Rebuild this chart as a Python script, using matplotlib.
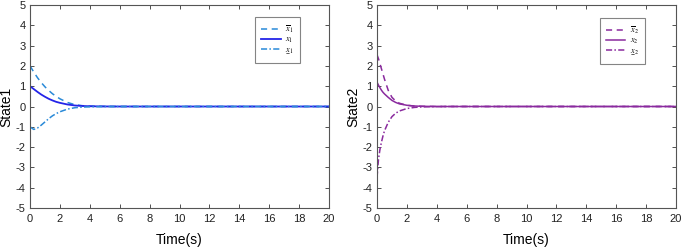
import matplotlib
matplotlib.use("Agg")
import matplotlib.pyplot as plt

plt.rcParams['font.family'] = ['Liberation Sans', 'DejaVu Sans']
plt.rcParams['mathtext.fontset'] = 'stix'
plt.rcParams['axes.unicode_minus'] = False

# Left panel data
t1 = [0, 0.25, 0.5, 0.75, 1, 1.25, 1.5, 1.75, 2, 2.5, 3, 3.5, 4, 5, 6, 8, 10, 15, 20]
xbar1 = [2.0, 1.7, 1.42, 1.18, 0.97, 0.79, 0.63, 0.5, 0.38, 0.2, 0.09, 0.04, 0.02, 0.005, 0, 0, 0, 0, 0]
x1 = [1.0, 0.86, 0.72, 0.59, 0.48, 0.38, 0.3, 0.23, 0.18, 0.1, 0.05, 0.025, 0.012, 0.003, 0, 0, 0, 0, 0]
xi1 = [-1.0, -1.13, -1.06, -0.92, -0.76, -0.6, -0.46, -0.35, -0.26, -0.13, -0.06, -0.03, -0.015, -0.004, 0, 0, 0, 0, 0]

# Right panel data
t2 = [0, 0.1, 0.2, 0.3, 0.4, 0.5, 0.75, 1, 1.25, 1.5, 2, 2.5, 3, 4, 5, 6, 8, 10, 15, 20]
xbar2 = [2.55, 2.35, 2.1, 1.85, 1.6, 1.35, 0.8, 0.45, 0.27, 0.16, 0.06, 0.02, 0.01, 0, 0, 0, 0, 0, 0, 0]
x2 = [1.2, 1.05, 0.92, 0.8, 0.7, 0.62, 0.45, 0.3, 0.2, 0.13, 0.06, 0.025, 0.01, 0, 0, 0, 0, 0, 0, 0]
xi2 = [-3.5, -2.6, -2.1, -1.75, -1.45, -1.2, -0.78, -0.5, -0.33, -0.22, -0.1, -0.045, -0.02, -0.005, 0, 0, 0, 0, 0, 0]

xticks = list(range(0, 21, 2))
yticks = list(range(-5, 6))

W, H = 685, 249
fig = plt.figure(figsize=(W/100, H/100), dpi=100)

def make_ax(left_px, right_px):
    return fig.add_axes([left_px/W, (H-208)/H, (right_px-left_px)/W, 203/H])

axL = make_ax(30, 329)
axR = make_ax(377, 676)

blue_light = '#2a8ad8'
blue = '#2424e8'
purple = '#8a2a9e'

axL.plot(t1, xbar1, '--', color=blue_light, lw=1.1, dashes=(4, 3), label=r'$\overline{x}_1$')
axL.plot(t1, x1, '-', color=blue, lw=1.3, label=r'$x_1$')
axL.plot(t1, xi1, '-.', color=blue_light, lw=1.1, dashes=(4, 1.5, 1, 1.5), label=r'$\underset{-}{x}_1$')

axR.plot(t2, xbar2, '--', color=purple, lw=1.1, dashes=(4, 3), label=r'$\overline{x}_2$')
axR.plot(t2, x2, '-', color=purple, lw=1.1, label=r'$x_2$')
axR.plot(t2, xi2, '-.', color=purple, lw=1.1, dashes=(4, 1.5, 1, 1.5), label=r'$\underset{-}{x}_2$')

for ax, yl, lx in ((axL, 'State1', (248, 23, 307, 57)), (axR, 'State2', (599, 23, 646, 59))):
    ax.set_xlim(0, 20)
    ax.set_ylim(-5, 5)
    ax.set_xticks(xticks)
    ax.set_yticks(yticks)
    ax.tick_params(direction='in', length=3, width=0.6, labelsize=8,
                   top=True, right=True, colors='#333333', labelcolor='#222222')
    ax.tick_params(axis='x', pad=4)
    ax.tick_params(axis='y', pad=3)
    for s in ax.spines.values():
        s.set_linewidth(0.8)
        s.set_color('#555555')
    ax.set_xlabel('Time(s)', fontsize=10, labelpad=7)
    ax.set_ylabel(yl, fontsize=10, labelpad=2)
    x0, y0, x1_, y1_ = lx
    ax_left = ax.get_position().x0 * W
    ax_w = ax.get_position().width * W
    ax_top = H - ax.get_position().y1 * H
    ax_h = ax.get_position().height * H
    bx = (x0 - ax_left) / ax_w
    by = 1 - (y1_ - ax_top) / ax_h
    bw = (x1_ - x0) / ax_w
    bh = (y1_ - y0) / ax_h
    leg = ax.legend(loc='center', bbox_to_anchor=(bx, by, bw, bh), fontsize=6,
                    frameon=True, fancybox=False, edgecolor='#666666',
                    handlelength=2.3, handletextpad=0.5, labelspacing=0.12,
                    borderpad=0.75, borderaxespad=0)
    leg.get_frame().set_linewidth(0.8)

fig.savefig('out.png', dpi=100)
